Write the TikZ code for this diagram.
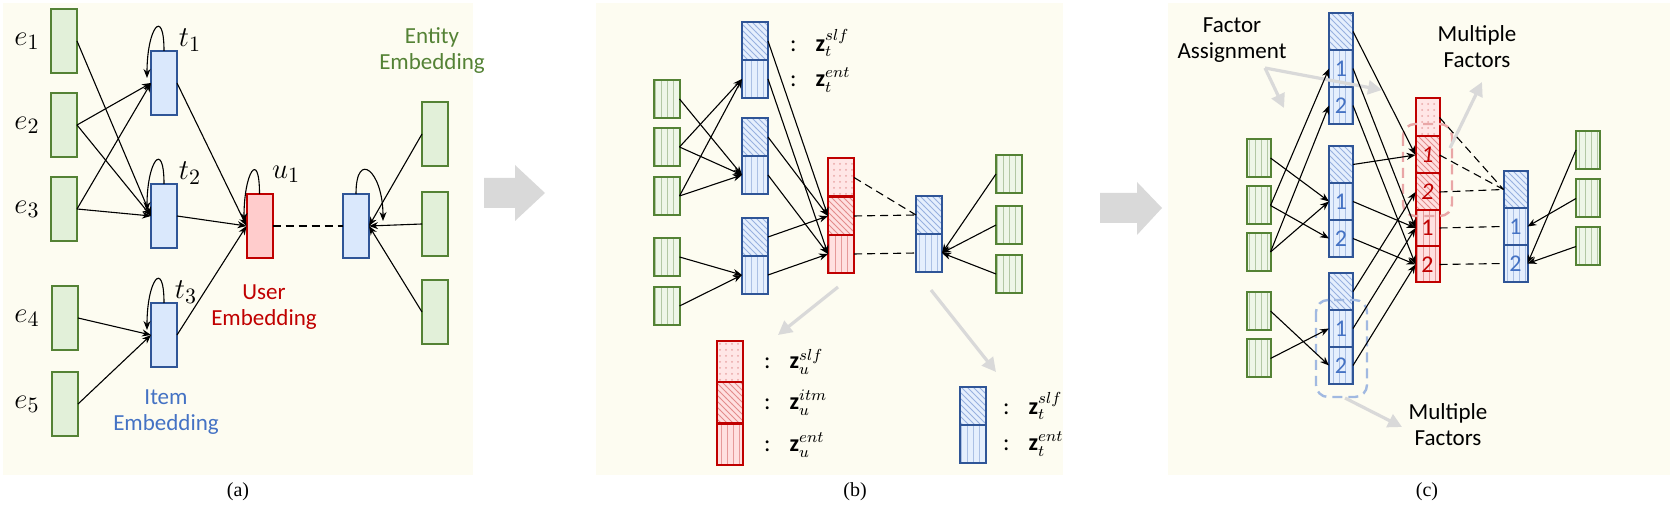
\documentclass[tikz,border=0pt]{standalone}
\usepackage{fontspec}
\setmainfont{Carlito}
\newfontfamily\capfont{Liberation Serif}
\usepackage{amsmath}
\usetikzlibrary{arrows.meta,patterns}
\definecolor{bgc}{RGB}{253,252,241}
\definecolor{gline}{RGB}{84,130,53}
\definecolor{gfill}{RGB}{226,240,217}
\definecolor{bline}{RGB}{47,85,151}
\definecolor{bfill}{RGB}{218,232,252}
\definecolor{btext}{RGB}{68,114,196}
\definecolor{rline}{RGB}{192,0,0}
\definecolor{rfill}{RGB}{255,204,204}
\definecolor{arrgray}{RGB}{217,217,217}
\tikzstyle{cell} = [rectangle, inner sep=0pt, outer sep=0pt, line width=1pt, minimum width=13pt]
\tikzset{
  edge/.style = {-{Stealth[length=4.5pt,width=3.5pt]}, line width=0.55pt},
  link/.style = {dash pattern=on 4pt off 2.5pt, line width=0.55pt},
  gbox/.style = {cell, draw=gline, fill=gfill, minimum height=32pt},
  bbox/.style = {cell, draw=bline, fill=bfill, minimum height=32pt},
  rbox/.style = {cell, draw=rline, fill=rfill, minimum height=32pt},
  gv/.style = {cell, draw=gline, minimum height=19pt, preaction={fill=gfill!60}, pattern=vertical lines, pattern color=gline!45},
  bs/.style = {cell, draw=bline, minimum height=19pt, preaction={fill=bfill!70}, pattern=north west lines, pattern color=btext!55},
  bv/.style = {cell, draw=bline, minimum height=19pt, preaction={fill=bfill!70}, pattern=vertical lines, pattern color=btext!45},
  rd/.style = {cell, draw=rline, minimum height=19pt, preaction={fill=rfill!50}, pattern=dots, pattern color=rline!35},
  rs/.style = {cell, draw=rline, minimum height=19pt, preaction={fill=rfill!60}, pattern=north west lines, pattern color=rline!45},
  rv/.style = {cell, draw=rline, minimum height=19pt, preaction={fill=rfill!60}, pattern=vertical lines, pattern color=rline!40},
  hint/.style = {draw=arrgray, line width=1.6pt, -{Triangle[length=7pt,width=7pt]}},
  lbl/.style = {font=\fontsize{11.5}{13}\selectfont, align=center},
  num/.style = {font=\fontsize{12}{12}\selectfont, text=btext},
  rnum/.style = {font=\fontsize{12}{12}\selectfont\itshape, text=rline},
  var/.style = {font=\fontsize{12}{12}\selectfont, anchor=west},
  sublbl/.style = {font=\capfont\fontsize{10}{12}\selectfont}
}

\begin{document}
\begin{tikzpicture}[x=0.5pt, y=-0.5pt]
  \useasboundingbox (0,0) rectangle (1675,506);
  % panel backgrounds
  \fill[bgc] (3,3) rectangle (473,475);
  \fill[bgc] (596,3) rectangle (1063,475);
  \fill[bgc] (1168,3) rectangle (1670,475);
  % big arrows
  \fill[arrgray] (484,178) -- (515,178) -- (515,165) -- (545,193) -- (515,221) -- (515,208) -- (484,208) -- cycle;
  \fill[arrgray] (1100,193) -- (1137,193) -- (1137,182) -- (1162,208) -- (1137,235) -- (1137,223) -- (1100,223) -- cycle;

  %%%%% (a)
  \node[gbox] (ae1) at (64,41) {};
  \node[gbox] (ae2) at (64,125) {};
  \node[gbox] (ae3) at (64,209) {};
  \node[gbox] (ae4) at (65,318) {};
  \node[gbox] (ae5) at (65,404) {};
  \foreach \i/\y in {1/41,2/125,3/209,4/318,5/404}
    \node[font=\fontsize{15}{15}\selectfont] at (27,\y) {$e_{\i}$};
  \node[bbox] (at1) at (164,83) {};
  \node[bbox] (at2) at (164,216) {};
  \node[bbox] (at3) at (164,335) {};
  \node[rbox] (au) at (259.5,226) {};
  \node[bbox] (aent) at (356,226) {};
  \node[gbox] (ag1) at (435,134) {};
  \node[gbox] (ag2) at (435,224) {};
  \node[gbox] (ag3) at (435,312) {};
  \node[font=\fontsize{15}{15}\selectfont] at (190,40) {$t_1$};
  \node[font=\fontsize{15}{15}\selectfont] at (190,173) {$t_2$};
  \node[font=\fontsize{15}{15}\selectfont] at (186,292) {$t_3$};
  \node[font=\fontsize{15}{15}\selectfont] at (286,174) {$u_1$};
  \node[lbl, text=gline] at (432,51) {Entity\\Embedding};
  \node[lbl, text=rline] at (264,307) {User\\Embedding};
  \node[lbl, text=btext] at (166,412) {Item\\Embedding};
  % loops
  \draw[edge] (at1.north) .. controls +(0,-45) and +(0,-50) .. (147,78);
  \draw[edge] (at2.north) .. controls +(0,-45) and +(0,-50) .. (147,211);
  \draw[edge] (at3.north) .. controls +(0,-45) and +(0,-50) .. (147,330);
  \draw[edge] (au.north) .. controls +(0,-45) and +(0,-50) .. (244,222);
  \draw[edge] (aent.north) .. controls +(0,-45) and +(0,-50) .. (383,221);
  % edges
  \draw[edge] (ae1.east) -- (at2.west);
  \draw[edge] (ae2.east) -- (at1.west);
  \draw[edge] (ae2.east) -- (at2.west);
  \draw[edge] (ae3.east) -- (at1.west);
  \draw[edge] (ae3.east) -- (at2.west);
  \draw[edge] (ae4.east) -- (at3.west);
  \draw[edge] (ae5.east) -- (at3.west);
  \draw[edge] (at1.east) -- (au.west);
  \draw[edge] (at2.east) -- (au.west);
  \draw[edge] (at3.east) -- (au.west);
  \draw[link] (au.east) -- (aent.west);
  \draw[edge] (ag1.west) -- (aent.east);
  \draw[edge] (ag2.west) -- (aent.east);
  \draw[edge] (ag3.west) -- (aent.east);
  \node[sublbl] at (238,492) {(a)};

  %%%%% (b)
  \foreach \i/\y in {1/99,2/147,3/196,4/257,5/306}
    \node[gv] (bg\i) at (666.5,\y) {};
  \foreach \i/\y in {1/41,2/137,3/237}
    \node[bs] (bs\i) at (755,\y) {};
  \foreach \i/\y in {1/79,2/175,3/275}
    \node[bv] (bv\i) at (755,\y) {};
  \node[rd] (bus) at (841,177.5) {};
  \node[rs] (bui) at (841,216) {};
  \node[rv] (bue) at (841,254) {};
  \node[bs] (bes) at (929,215) {};
  \node[bv] (bev) at (929,253) {};
  \foreach \i/\y in {1/174,2/225,3/274}
    \node[gv] (br\i) at (1009,\y) {};
  \node[var] at (783,43) {:\hspace{0.8em}$\mathbf{z}_t^{slf}$};
  \node[var] at (783,80) {:\hspace{0.8em}$\mathbf{z}_t^{ent}$};
  % legend
  \node[rd, minimum height=20.5pt] (blr1) at (730,361.5) {};
  \node[rs, minimum height=20.5pt] (blr2) at (730,403) {};
  \node[rv, minimum height=20.5pt] (blr3) at (730,444.5) {};
  \node[bs] (blb1) at (973,406) {};
  \node[bv] (blb2) at (973,444) {};
  \node[var] at (757,362) {:\hspace{0.8em}$\mathbf{z}_u^{slf}$};
  \node[var] at (757,403) {:\hspace{0.8em}$\mathbf{z}_u^{itm}$};
  \node[var] at (757,445) {:\hspace{0.8em}$\mathbf{z}_u^{ent}$};
  \node[var] at (996,406) {:\hspace{0.8em}$\mathbf{z}_t^{slf}$};
  \node[var] at (996,444) {:\hspace{0.8em}$\mathbf{z}_t^{ent}$};
  \coordinate (bh1) at (838,287);
  \coordinate (bh2) at (931,290);
  \draw[hint] (bh1) -- (778,335);
  \draw[hint] (bh2) -- (996,372);
  % edges
  \draw[edge] (bg1.east) -- (bv2.west);
  \draw[edge] (bg2.east) -- (bv1.west);
  \draw[edge] (bg2.east) -- (bv2.west);
  \draw[edge] (bg3.east) -- (bv1.west);
  \draw[edge] (bg3.east) -- (bv2.west);
  \draw[edge] (bg4.east) -- (bv3.west);
  \draw[edge] (bg5.east) -- (bv3.west);
  \foreach \i in {1,2,3} {
    \draw[edge] (bs\i.east) -- (bui.west);
    \draw[edge] (bv\i.east) -- (bue.west);
  }
  \draw[link] (bus.east) -- (bes.west);
  \draw[link] (bui.east) -- (bes.west);
  \draw[link] (bue.east) -- (bev.west);
  \foreach \i in {1,2,3}
    \draw[edge] (br\i.west) -- (bev.east);
  \node[sublbl] at (855,492) {(b)};

  %%%%% (c)
  \tikzset{cell/.append style={minimum width=12pt}}
  \foreach \i/\y in {1/158,2/205.5,3/252,4/311,5/358.5}
    \node[gv] (cg\i) at (1258.5,\y) {};
  \foreach \i/\y in {1/31.5,2/164.5,3/291.5} {
    \node[bs, minimum height=18.5pt] (cs\i) at (1341,\y) {};
    \node[bv, minimum height=18.5pt, num] (cf\i a) at (1341,\y+37) {1};
    \node[bv, minimum height=18.5pt, num] (cf\i b) at (1341,\y+74) {2};
  }
  \node[rd, minimum height=19.5pt] (cus) at (1427.5,117.5) {};
  \node[rs, minimum height=18.5pt, rnum] (cui1) at (1427.5,155) {1};
  \node[rs, minimum height=18.5pt, rnum] (cui2) at (1427.5,192) {2};
  \node[rv, minimum height=18pt, num, text=rline] (cue1) at (1427.5,228) {1};
  \node[rv, minimum height=18pt, num, text=rline] (cue2) at (1427.5,264.5) {2};
  \node[bs, minimum height=18.5pt] (ces) at (1515.5,189.5) {};
  \node[bv, minimum height=18.5pt, num] (ce1) at (1515.5,226.5) {1};
  \node[bv, minimum height=18.5pt, num] (ce2) at (1515.5,263.5) {2};
  \foreach \i/\y in {1/150,2/198.5,3/246.5}
    \node[gv] (cr\i) at (1588,\y) {};
  % dashed groups
  \draw[rline!35, dash pattern=on 5pt off 3pt, line width=1.2pt, rounded corners=6pt] (1403,124) rectangle (1452,216);
  \draw[btext!50, dash pattern=on 5pt off 3pt, line width=1.2pt, rounded corners=6pt] (1316,300) rectangle (1367,397);
  % texts and hints
  \node[lbl] (cfa) at (1232,40) {Factor\\Assignment};
  \node[lbl] (cmf1) at (1477,47) {Multiple\\Factors};
  \node[lbl] (cmf2) at (1448,425) {Multiple\\Factors};
  \coordinate (ch1) at (1265,68);
  \coordinate (ch2) at (1450,148);
  \coordinate (ch3) at (1345,398);
  \draw[hint] (ch1) -- (1284,108);
  \draw[hint] (ch1) -- (1382,90);
  \draw[hint] (ch2) -- (1482,82);
  \draw[hint] (ch3) -- (1402,427);
  % edges
  \draw[edge] (cg1.east) -- (cf2a.west);
  \draw[edge] (cg2.east) -- (cf1a.west);
  \draw[edge] (cg2.east) -- (cf2b.west);
  \draw[edge] (cg3.east) -- (cf1b.west);
  \draw[edge] (cg3.east) -- (cf2a.west);
  \draw[edge] (cg4.east) -- (cf3b.west);
  \draw[edge] (cg5.east) -- (cf3a.west);
  \draw[edge] (cs1.east) -- (cui1.west);
  \draw[edge] (cs2.east) -- (cui1.west);
  \draw[edge] (cs3.east) -- (cui2.west);
  \foreach \i in {1,2,3} {
    \draw[edge] (cf\i a.east) -- (cue1.west);
    \draw[edge] (cf\i b.east) -- (cue2.west);
  }
  \draw[link] (cus.east) -- (ces.west);
  \draw[link] (cui1.east) -- (ces.west);
  \draw[link] (cui2.east) -- (ces.west);
  \draw[link] (cue1.east) -- (ce1.west);
  \draw[link] (cue2.east) -- (ce2.west);
  \draw[edge] (cr1.west) -- (ce2.east);
  \draw[edge] (cr2.west) -- (ce1.east);
  \draw[edge] (cr3.west) -- (ce2.east);
  \node[sublbl] at (1427,492) {(c)};
\end{tikzpicture}
\end{document}
